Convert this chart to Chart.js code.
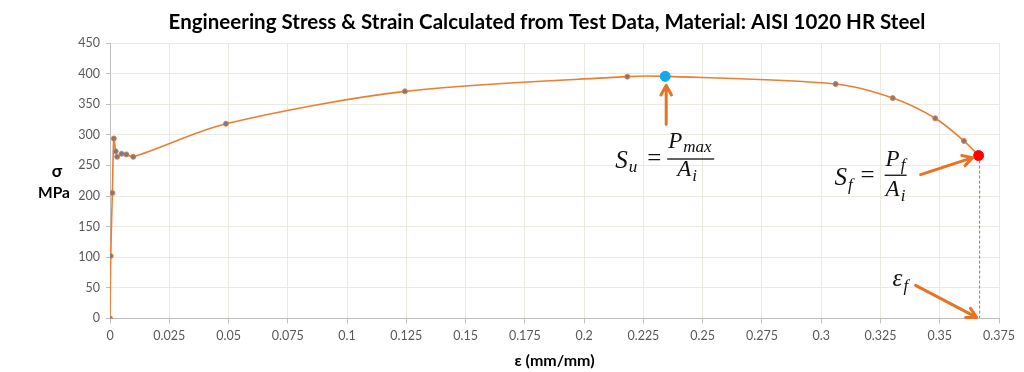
<!DOCTYPE html>
<html>
<head>
<meta charset="utf-8">
<script src="https://cdn.jsdelivr.net/npm/chart.js@4.4.0/dist/chart.umd.min.js"></script>
<style>
  html, body { margin: 0; padding: 0; background: #fff; }
  #wrap { width: 1024px; height: 372px; }
</style>
</head>
<body>
<div id="wrap"><canvas id="chart"></canvas></div>
<script>
// datos (deformacion ingenieril vs esfuerzo)
const strain = [0, 0.0003, 0.001, 0.0016, 0.0024, 0.003, 0.0049, 0.0069, 0.0098, 0.0489, 0.1244, 0.2182, 0.2342, 0.3061, 0.3302, 0.3481, 0.3602, 0.3664];
const stress = [0, 102, 205, 294, 273, 264, 269, 268, 264, 318, 371, 395, 395.5, 383, 360, 327, 290, 266];
const xTickValues = [0, 0.025, 0.05, 0.075, 0.1, 0.125, 0.15, 0.175, 0.2, 0.225, 0.25, 0.275, 0.3, 0.325, 0.35, 0.375];
const yTickValues = [0, 50, 100, 150, 200, 250, 300, 350, 400, 450];
const ultimateIdx = 12;
const fractureIdx = strain.length - 1;

const chartTitle = "Engineering Stress & Strain Calculated from Test Data, Material: AISI 1020 HR Steel";
const xTitle = "ε (mm/mm)";
const yTitle = ["σ", "MPa"];

const ORANGE = "#ED7D31";
const ARROW = "#E97325";
const FONT = "Lato, 'DejaVu Sans', sans-serif";
const MATH = "'Liberation Serif', 'DejaVu Serif', serif";

const points = strain.map((x, i) => ({ x: x, y: stress[i] }));

function pointColor(ctx) {
    if (ctx.dataIndex === ultimateIdx) return "#12A9EC";
    if (ctx.dataIndex === fractureIdx) return "#FF0000";
    return "#6E7C96";
}
function pointBorder(ctx) {
    if (ctx.dataIndex === ultimateIdx) return "#12A9EC";
    if (ctx.dataIndex === fractureIdx) return "#FF0000";
    return ORANGE;
}
function pointRadius(ctx) {
    return (ctx.dataIndex === ultimateIdx || ctx.dataIndex === fractureIdx) ? 5 : 2.5;
}

function arrow(ctx, x1, y1, x2, y2) {
    const a = Math.atan2(y2 - y1, x2 - x1);
    const h = 11;
    ctx.save();
    ctx.strokeStyle = ARROW;
    ctx.lineWidth = 3;
    ctx.lineCap = "round";
    ctx.lineJoin = "round";
    ctx.beginPath();
    ctx.moveTo(x1, y1);
    ctx.lineTo(x2, y2);
    ctx.moveTo(x2 - h * Math.cos(a - 0.5), y2 - h * Math.sin(a - 0.5));
    ctx.lineTo(x2, y2);
    ctx.lineTo(x2 - h * Math.cos(a + 0.5), y2 - h * Math.sin(a + 0.5));
    ctx.stroke();
    ctx.restore();
}

function mathText(ctx, txt, x, y, size) {
    ctx.font = "italic " + size + "px " + MATH;
    ctx.fillText(txt, x, y);
    return ctx.measureText(txt).width;
}

// anotaciones: titulo, formulas, flechas y linea punteada
const annotations = {
    id: "annotations",
    afterDatasetsDraw(chart) {
        const ctx = chart.ctx;
        const xs = chart.scales.x, ys = chart.scales.y;
        const ux = xs.getPixelForValue(strain[ultimateIdx]);
        const uy = ys.getPixelForValue(stress[ultimateIdx]);
        const fx = xs.getPixelForValue(strain[fractureIdx]);
        const fy = ys.getPixelForValue(stress[fractureIdx]);
        const base = ys.getPixelForValue(0);

        ctx.save();
        // linea punteada hasta el eje
        ctx.strokeStyle = "#7F7F7F";
        ctx.lineWidth = 1;
        ctx.setLineDash([3, 2]);
        ctx.beginPath();
        ctx.moveTo(fx + 1, fy + 5);
        ctx.lineTo(fx + 1, base);
        ctx.stroke();
        ctx.setLineDash([]);

        ctx.fillStyle = "#111";
        ctx.textBaseline = "alphabetic";
        ctx.textAlign = "left";

        // S_u = P_max / A_i
        arrow(ctx, ux + 1, uy + 48, ux + 1, uy + 9);
        let w = mathText(ctx, "S", ux - 50, uy + 92, 25);
        mathText(ctx, "u", ux - 50 + w + 1, uy + 96, 17);
        ctx.font = "25px " + MATH;
        ctx.fillText("=", ux - 18, uy + 90);
        ctx.fillRect(ux + 2, uy + 82, 47, 1.3);
        w = mathText(ctx, "P", ux + 3, uy + 72, 23);
        mathText(ctx, "max", ux + 3 + w + 1, uy + 76, 17);
        w = mathText(ctx, "A", ux + 12, uy + 100, 23);
        mathText(ctx, "i", ux + 12 + w + 1, uy + 105, 17);

        // S_f = P_f / A_i
        arrow(ctx, fx - 58, fy + 19, fx - 6, fy + 2);
        w = mathText(ctx, "S", fx - 144, fy + 29, 25);
        mathText(ctx, "f", fx - 144 + w + 1, fy + 34, 17);
        ctx.font = "25px " + MATH;
        ctx.fillText("=", fx - 118, fy + 27);
        ctx.fillRect(fx - 94, fy + 19, 22, 1.3);
        w = mathText(ctx, "P", fx - 93, fy + 10, 23);
        mathText(ctx, "f", fx - 93 + w + 1, fy + 14, 17);
        w = mathText(ctx, "A", fx - 93, fy + 40, 23);
        mathText(ctx, "i", fx - 93 + w + 1, fy + 45, 17);

        // epsilon_f
        w = mathText(ctx, "ε", fx - 86, base - 32, 25);
        mathText(ctx, "f", fx - 86 + w + 1, base - 27, 17);
        arrow(ctx, fx - 63, base - 33, fx - 2, base - 1);

        // titulo del eje y, horizontal
        ctx.fillStyle = "#000";
        ctx.textAlign = "center";
        ctx.textBaseline = "middle";
        ctx.font = "bold 17px " + FONT;
        ctx.fillText(yTitle[0], 57, 172);
        ctx.font = "bold 15.5px " + FONT;
        ctx.fillText(yTitle[1], 54, 193);

        // titulo del grafico
        ctx.font = "bold 20.5px " + FONT;
        ctx.fillText(chartTitle, 547, 22);
        ctx.restore();
    }
};

new Chart(document.getElementById("chart"), {
    type: "scatter",
    data: {
        datasets: [{
            data: points,
            showLine: true,
            borderColor: ORANGE,
            borderWidth: 1.6,
            tension: 0.3,
            pointBackgroundColor: pointColor,
            pointBorderColor: pointBorder,
            pointBorderWidth: 1,
            pointRadius: pointRadius
        }]
    },
    options: {
        responsive: true,
        maintainAspectRatio: false,
        animation: false,
        layout: { padding: { left: 0, right: 25, top: 43, bottom: 1.4 } },
        plugins: {
            legend: { display: false },
            tooltip: { enabled: false },
            title: { display: false }
        },
        scales: {
            x: {
                type: "linear",
                min: 0,
                max: 0.375,
                afterBuildTicks: s => { s.ticks = xTickValues.map(v => ({ value: v })); },
                ticks: {
                    color: "#595959",
                    font: { family: FONT, size: 12.5 },
                    padding: 5.5,
                    maxRotation: 0,
                    callback: v => String(Number(v.toFixed(3)))
                },
                grid: { color: "#ECEAE0", tickColor: "#BFBFBF", tickLength: 5 },
                border: { color: "#BFBFBF" },
                title: {
                    display: true,
                    text: xTitle,
                    color: "#000",
                    font: { family: FONT, size: 16, weight: "bold" },
                    padding: { top: 2, bottom: 0 }
                }
            },
            y: {
                min: 0,
                max: 450,
                afterBuildTicks: s => { s.ticks = yTickValues.map(v => ({ value: v })); },
                afterFit: s => { s.width = 110; },
                ticks: {
                    color: "#595959",
                    font: { family: FONT, size: 12.5 },
                    padding: 6
                },
                grid: { color: "#ECEAE0", tickColor: "#BFBFBF", tickLength: 4 },
                border: { color: "#BFBFBF" }
            }
        }
    },
    plugins: [annotations]
});
</script>
</body>
</html>
